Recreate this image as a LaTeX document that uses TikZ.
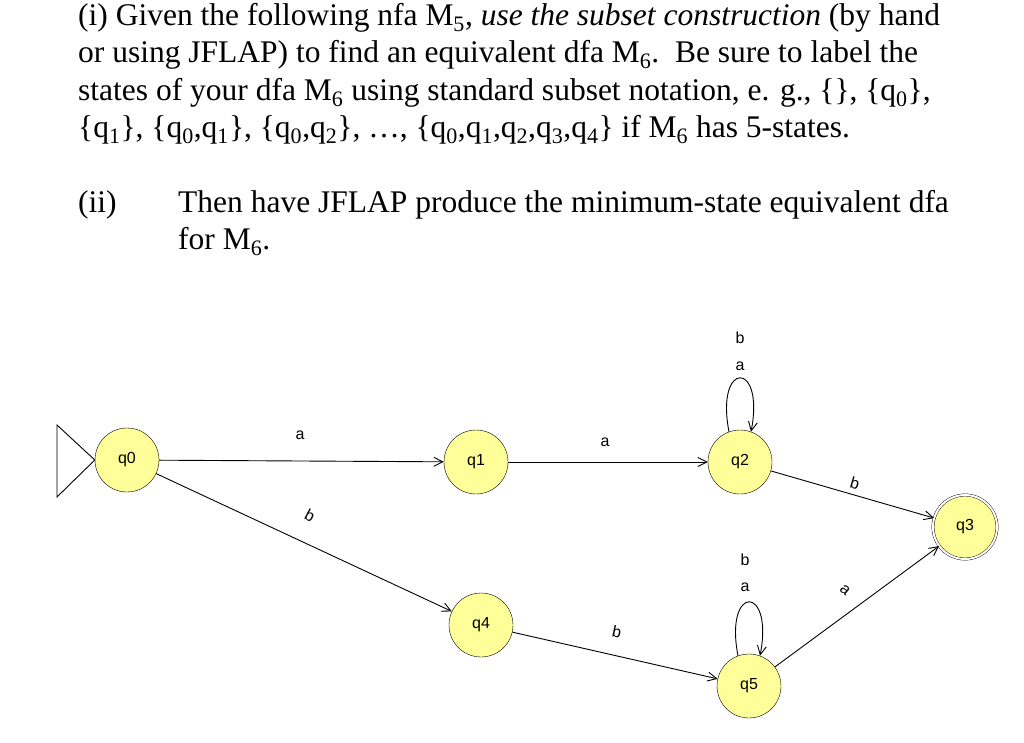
\documentclass[tikz,border=0pt]{standalone}
\usepackage{fontspec}
\setmainfont{Liberation Serif}
\newfontfamily\lab{Liberation Sans}
\usetikzlibrary{arrows.meta}
\newcommand{\sbs}[1]{\textsubscript{#1}}
\begin{document}
\begin{tikzpicture}[x=1pt,y=-1pt,
  st/.style={circle,draw=black,fill={rgb,255:red,255;green,255;blue,153},minimum size=64pt,inner sep=0pt,font=\lab\fontsize{16}{16}\selectfont},
  tl/.style={anchor=west,inner sep=0pt,font=\fontsize{31.5}{31.5}\selectfont},
  el/.style={font=\lab\fontsize{16}{16}\selectfont,inner sep=1pt},
  ed/.style={draw=black,line width=0.9pt,-{Straight Barb[length=9pt,width=9pt]}}]
\useasboundingbox (0,0) rectangle (1024,743);
\node[tl] (t1) at (78,18) {(i) Given the following nfa M\sbs{5}, \textit{use the subset construction} (by hand};
\node[tl] (t2) at (78,55) {or using JFLAP) to find an equivalent dfa M\sbs{6}.\ \ Be sure to label the};
\node[tl] (t3) at (78,93) {states of your dfa M\sbs{6} using standard subset notation, e. g., \{\}, \{q\sbs{0}\},};
\node[tl] (t4) at (78,130) {\{q\sbs{1}\}, \{q\sbs{0},q\sbs{1}\}, \{q\sbs{0},q\sbs{2}\}, …, \{q\sbs{0},q\sbs{1},q\sbs{2},q\sbs{3},q\sbs{4}\} if M\sbs{6} has 5-states.};
\node[tl] (t5) at (78,205) {(ii)};
\node[tl] (t6) at (178,205) {Then have JFLAP produce the minimum-state equivalent dfa};
\node[tl] (t7) at (178,242) {for M\sbs{6}.};
\node[st] (q0) at (127,460) {q0};
\node[st] (q1) at (476,462) {q1};
\node[st] (q2) at (740,462) {q2};
\node[st,double,double distance=2pt] (q3) at (965,527) {q3};
\node[st] (q4) at (481,625) {q4};
\node[st] (q5) at (749,686) {q5};
\coordinate (s1) at (57,425); \coordinate (s2) at (57,497);
\draw[line width=0.9pt] (s1) -- (q0.west) -- (s2) -- cycle;
\draw[ed] (q0) -- (q1);
\draw[ed] (q1) -- (q2);
\draw[ed] (q2) -- (q3);
\draw[ed] (q0) -- (q4);
\draw[ed] (q4) -- (q5);
\draw[ed] (q5) -- (q3);
\draw[ed] (q2.110) .. controls (715,360) and (765,360) .. (q2.70);
\draw[ed] (q5.110) .. controls (724,584) and (774,584) .. (q5.70);
\node[el] (la1) at (300,435) {a};
\node[el] (la2) at (605,442) {a};
\node[el,rotate=-16] (lb1) at (855,483) {b};
\node[el,rotate=-28] (lb2) at (310,516) {b};
\node[el,rotate=-12] (lb3) at (617,632) {b};
\node[el,rotate=-40] (la3) at (845,590) {a};
\node[el] (lb4) at (740,338) {b};
\node[el] (la4) at (740,366) {a};
\node[el] (lb5) at (745,560) {b};
\node[el] (la5) at (745,587) {a};
\end{tikzpicture}
\end{document}
